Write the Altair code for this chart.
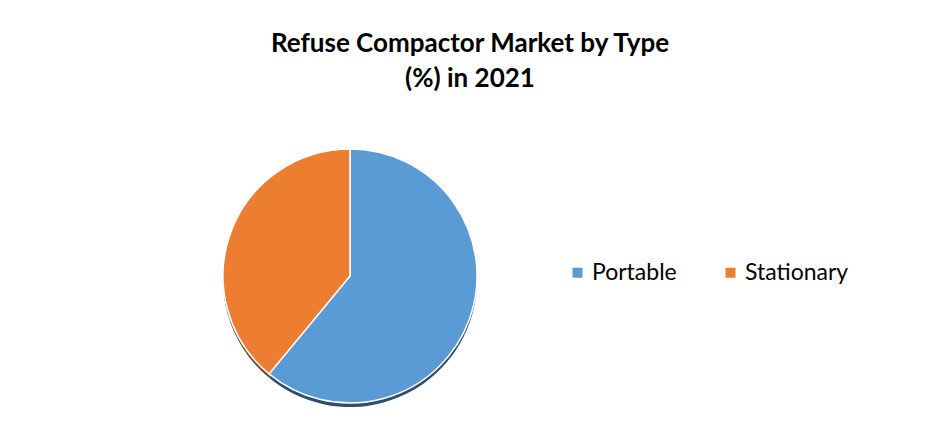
import pandas as pd
import altair as alt

# Data
types = ["Portable", "Stationary"]
shares = [61, 39]
colors = ["#5B9BD5", "#ED7D31"]
shadow_colors = ["#2E4E6E", "#7A4A2A"]

df = pd.DataFrame({"Type": types, "Share": shares})

cx, cy, r = 342, 158, 127

base = alt.Chart(df).encode(
    theta=alt.Theta("Share:Q", stack=True),
    order=alt.Order("Type:N", sort="ascending"),
)

shadow = base.mark_arc(outerRadius=r, strokeWidth=0).encode(
    x=alt.value(cx),
    y=alt.value(cy + 4),
    color=alt.Color("Type:N", scale=alt.Scale(domain=types, range=shadow_colors), legend=None),
)

pie = base.mark_arc(outerRadius=r, stroke="#ffffff", strokeWidth=1.5).encode(
    x=alt.value(cx),
    y=alt.value(cy),
    fill=alt.Fill(
        "Type:N",
        scale=alt.Scale(domain=types, range=colors),
        legend=alt.Legend(
            title=None,
            orient="none",
            legendX=558,
            legendY=143,
            direction="horizontal",
            columns=2,
            symbolType="square",
            symbolSize=100,
            symbolStrokeWidth=0,
            labelFontSize=23,
            labelFont="Lato",
            labelColor="#000000",
            labelOffset=3,
            columnPadding=42,
        ),
    ),
)

chart = (shadow + pie).resolve_scale(color="independent").properties(
    width=924,
    height=322,
    padding={"left": 0, "top": 110, "right": 0, "bottom": 0},
    autosize=alt.AutoSizeParams(type="none"),
    title=alt.Title(
        ["Refuse Compactor Market by Type", "(%) in 2021"],
        anchor="middle",
        frame="group",
        font="Lato",
        fontSize=26,
        fontWeight="bold",
        color="#000000",
        lineHeight=35,
        offset=26,
    ),
).configure_view(stroke=None)

chart.save("out.html", embed_options={"renderer": "svg", "actions": False})
